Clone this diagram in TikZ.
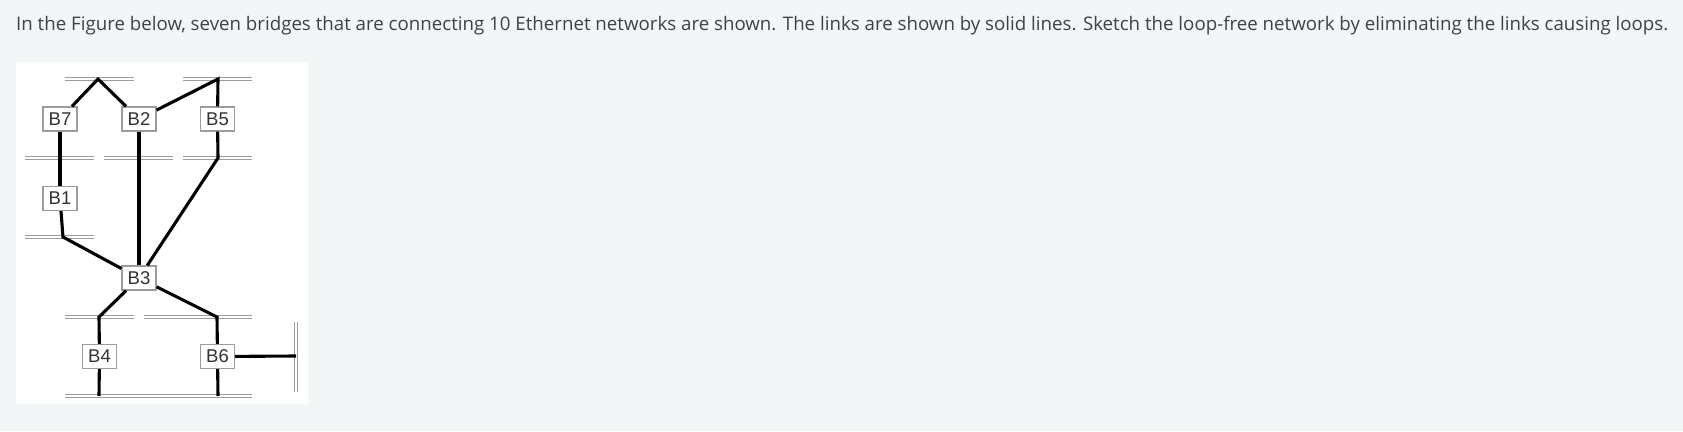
\documentclass[tikz,border=0pt]{standalone}
\usepackage{fontspec}
\setmainfont{Open Sans}
\newfontfamily\boxfont{Liberation Sans}
\definecolor{pagebg}{HTML}{F3F6F7}
\definecolor{txtgray}{HTML}{3E4246}
\definecolor{netgray}{HTML}{9C9C9C}
\tikzset{
  lan/.style={draw=netgray,line width=1.3pt,double=white,double distance=1.5pt},
  link/.style={line width=3.1pt},
  bridge/.style={draw=netgray,fill=white,line width=1.3pt,minimum width=34pt,
    minimum height=24pt,inner sep=0pt,text=black!80,
    font=\boxfont\fontsize{18.5}{18.5}\selectfont}
}
\begin{document}
\begin{tikzpicture}[x=1pt,y=-1pt]
\fill[pagebg] (0,0) rectangle (1683,431);
\useasboundingbox (0,0) rectangle (1683,431);
\node[anchor=base west,inner sep=0pt,text=txtgray,font=\fontsize{18.7}{22}\selectfont] (task) at (16,30.5)
  {In the Figure below, seven bridges that are connecting 10 Ethernet networks are shown. The links are shown by solid lines. Sketch the loop-free network by eliminating the links causing loops.};
\fill[white] (16,62) rectangle (308,404);
% networks
\draw[lan] (65,79) -- (134,79);
\draw[lan] (183,79) -- (252,79);
\draw[lan] (25,158) -- (94,158);
\draw[lan] (104,158) -- (173,158);
\draw[lan] (183,158) -- (252,158);
\draw[lan] (25,237) -- (94,237);
\draw[lan] (65,317) -- (134,317);
\draw[lan] (144,317) -- (252,317);
\draw[lan] (65,396) -- (252,396);
\draw[lan] (296,322) -- (296,392);
\coordinate (n1) at (98,79);
\coordinate (n2) at (218,79);
\coordinate (n3) at (60,158);
\coordinate (n4) at (139,158);
\coordinate (n5) at (218,158);
\coordinate (n6) at (63,237);
\coordinate (n7) at (99,317);
\coordinate (n8) at (217,317);
\coordinate (n9a) at (99,396);
\coordinate (n9b) at (218,396);
\coordinate (n10) at (296,356);
% bridges
\node[bridge] (b7) at (60,119) {B7};
\node[bridge] (b2) at (139,119) {B2};
\node[bridge] (b5) at (217.5,119) {B5};
\node[bridge] (b1) at (60,198.5) {B1};
\node[bridge] (b3) at (139,278) {B3};
\node[bridge] (b4) at (99.5,356.5) {B4};
\node[bridge] (b6) at (217.5,356.5) {B6};
% links
\draw[link] (b7) -- (n1) -- (b2);
\draw[link] (b2) -- (n2) -- (b5);
\draw[link] (b7) -- (n3) -- (b1);
\draw[link] (b2) -- (n4) -- (b3);
\draw[link] (b5) -- (n5) -- (b3);
\draw[link] (b1) -- (n6) -- (b3);
\draw[link] (b3) -- (n7) -- (b4);
\draw[link] (b3) -- (n8) -- (b6);
\draw[link] (b4) -- (n9a);
\draw[link] (b6) -- (n9b);
\draw[link] (b6) -- (n10);
\end{tikzpicture}
\end{document}
